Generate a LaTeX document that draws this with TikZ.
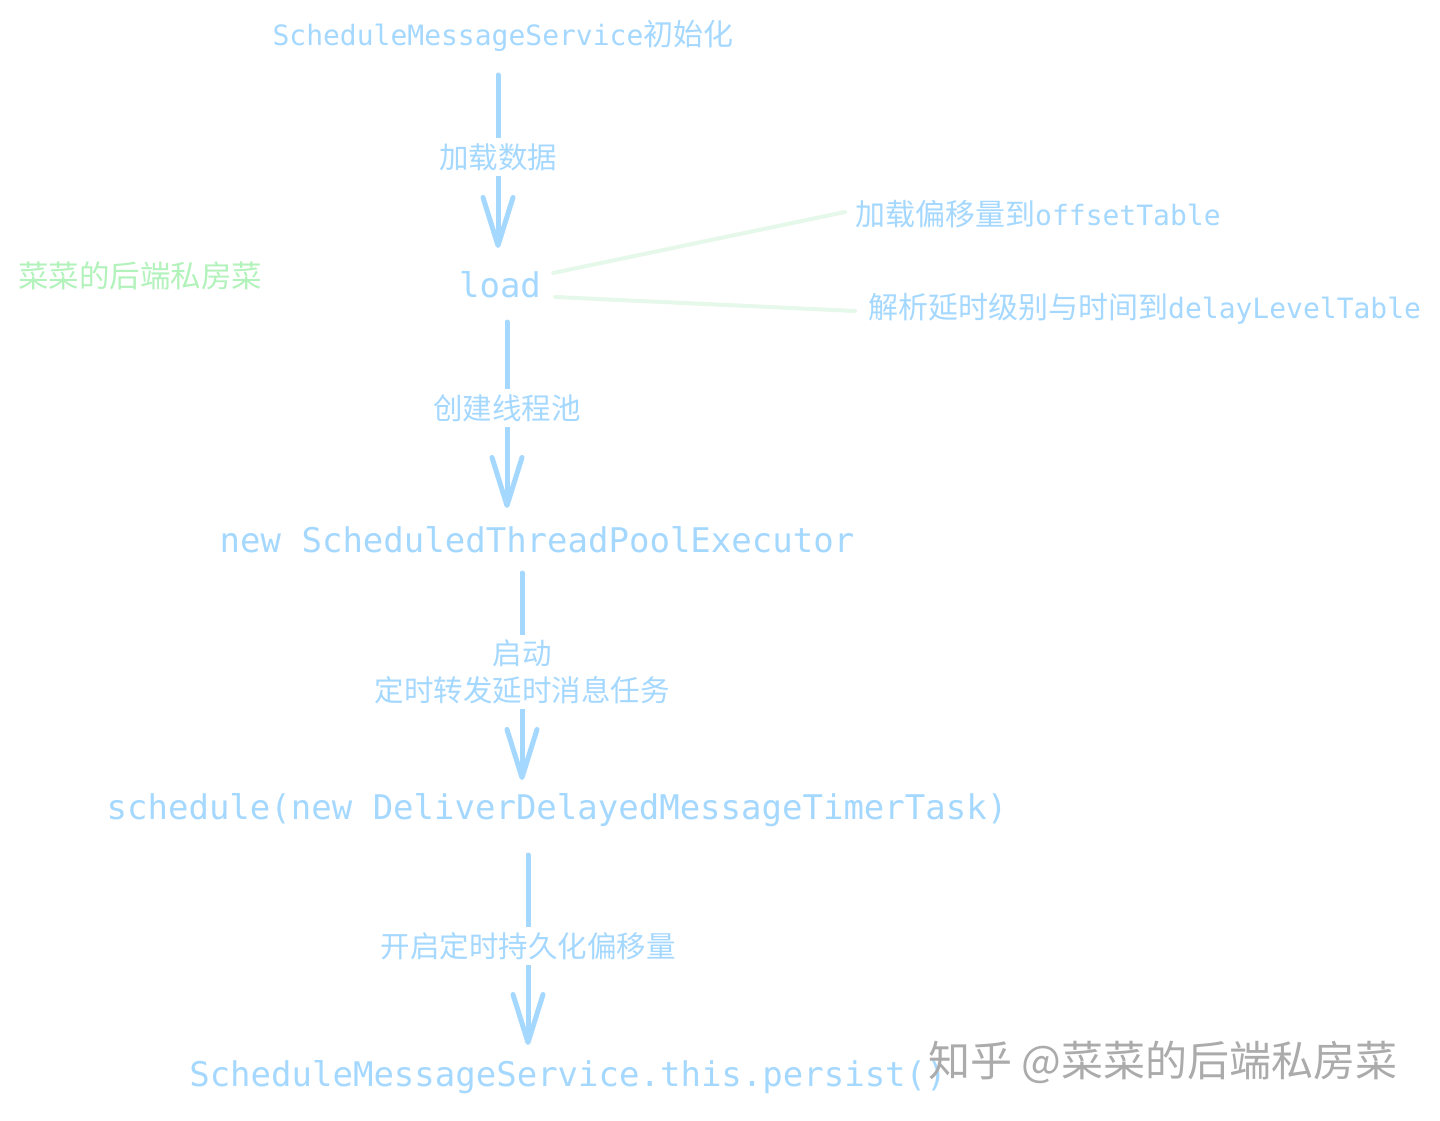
\documentclass[tikz,border=0pt]{standalone}
\usepackage{fontspec}
\newfontfamily\mono{DejaVu Sans Mono}
\newfontfamily\cjk{Noto Sans CJK SC}
\usetikzlibrary{arrows.meta,calc}
\definecolor{sky}{HTML}{A5D8FF}
\definecolor{mint}{HTML}{B2F2BB}
\definecolor{mintline}{HTML}{E6F8E9}
\definecolor{markgray}{HTML}{ABABAB}
\pgfdeclarelayer{back}
\pgfdeclarelayer{arrows}
\pgfsetlayers{back,arrows,main}
\newcommand{\zh}[1]{{\cjk\fontsize{30}{34}\selectfont #1}}
\tikzset{
  code/.style={inner sep=0pt, text=sky, font=\mono\fontsize{34}{40}\selectfont},
  small/.style={inner sep=0pt, text=sky, font=\mono\fontsize{28}{33}\selectfont},
  lbl/.style={inner sep=5pt, fill=white, text=sky, font=\cjk\fontsize{29.5}{37}\selectfont, align=center},
  flow/.style={draw=sky, line width=5pt, line cap=round, line join=round,
    -{Straight Barb[length=48pt,width=30pt,round]}},
  link/.style={draw=mintline, line width=4pt, line cap=round},
}
\begin{document}
\begin{tikzpicture}[x=1pt,y=-1pt]
\begin{pgfonlayer}{back}
\fill[white] (0,0) rectangle (1440,1121);
\end{pgfonlayer}
\useasboundingbox (0,0) rectangle (1440,1121);

\node[small] (init) at (503,36) {ScheduleMessageService\zh{初始化}};
\node[code] (load) at (500,285) {load};
\node[small, anchor=west] (off) at (855,214) {\zh{加载偏移量到}offsetTable};
\node[small, anchor=west] (delay) at (868,309) {\zh{解析延时级别与时间到}delayLevelTable};
\node[inner sep=0pt, text=mint, font=\cjk\fontsize{30.5}{34}\selectfont, anchor=west] (brand) at (18,276) {菜菜的后端私房菜};
\node[code] (exec) at (537,540) {new ScheduledThreadPoolExecutor};
\node[code] (sched) at (557,810) {schedule(new DeliverDelayedMessageTimerTask)};
\node[code] (persist) at (568,1077) {ScheduleMessageService.this.persist()};

\node[lbl] (l1) at (498,157) {加载数据};
\node[lbl] (l2) at (507,408) {创建线程池};
\node[lbl] (l3) at (522,672) {启动\\定时转发延时消息任务};
\node[lbl] (l4) at (528,946) {开启定时持久化偏移量};

\begin{pgfonlayer}{arrows}
\draw[flow, shorten <=39pt, shorten >=37pt] (l1 |- init) -- (l1 |- load);
\draw[flow, shorten <=37pt, shorten >=32pt] (l2 |- load) -- (l2 |- exec);
\draw[flow, shorten <=33pt, shorten >=30pt] (l3 |- exec) -- (l3 |- sched);
\draw[flow, shorten <=45pt, shorten >=32pt] (l4 |- sched) -- (l4 |- persist);
\draw[link] ([xshift=12pt,yshift=12pt]load.east) -- ([xshift=-10pt,yshift=2pt]off.west);
\draw[link] ([xshift=14pt,yshift=-12pt]load.east) -- ([xshift=-13pt,yshift=-2pt]delay.west);
\end{pgfonlayer}

\node[inner sep=0pt, text=markgray, font=\cjk\fontsize{42}{50}\selectfont, anchor=west] (wm) at (928,1062) {知乎 @菜菜的后端私房菜};
\end{tikzpicture}
\end{document}
